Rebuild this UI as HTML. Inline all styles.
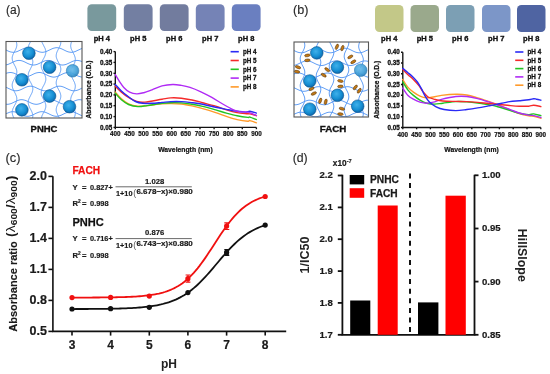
<!DOCTYPE html>
<html><head><meta charset="utf-8"><style>
html,body{margin:0;padding:0;background:#fff;}
svg{display:block;will-change:transform;}
text{font-family:"Liberation Sans", sans-serif;}
</style></head><body>
<svg width="550" height="374" viewBox="0 0 550 374">
<rect width="550" height="374" fill="#fff"/>
<defs>
<radialGradient id="ballg" cx="0.42" cy="0.38" r="0.65"><stop offset="0" stop-color="#3fb0ea"/><stop offset="0.6" stop-color="#1790d4"/><stop offset="1" stop-color="#0c66aa"/></radialGradient>
<radialGradient id="ballL" cx="0.42" cy="0.38" r="0.65"><stop offset="0" stop-color="#6cbcea"/><stop offset="0.6" stop-color="#44a2da"/><stop offset="1" stop-color="#2a80bc"/></radialGradient>
</defs>
<text x="6" y="13.6" font-size="12.3" fill="#2a2a2a" stroke="#2a2a2a" stroke-width="0.15" textLength="14.6" lengthAdjust="spacingAndGlyphs">(a)</text>
<text x="293" y="13.6" font-size="12.3" fill="#2a2a2a" stroke="#2a2a2a" stroke-width="0.15" textLength="15.4" lengthAdjust="spacingAndGlyphs">(b)</text>
<text x="5.5" y="161.5" font-size="12.3" fill="#2a2a2a" stroke="#2a2a2a" stroke-width="0.15" textLength="15" lengthAdjust="spacingAndGlyphs">(c)</text>
<text x="292.7" y="161.5" font-size="12.3" fill="#2a2a2a" stroke="#2a2a2a" stroke-width="0.15" textLength="15" lengthAdjust="spacingAndGlyphs">(d)</text>
<rect x="87.4" y="4.2" width="28.8" height="26.9" rx="4.5" fill="#79999d"/>
<text x="101.8" y="40.8" text-anchor="middle" font-size="7.5" font-weight="bold" fill="#111" stroke="#111" stroke-width="0.35">pH 4</text>
<rect x="123.8" y="4.2" width="28.8" height="26.9" rx="4.5" fill="#737fa2"/>
<text x="138.2" y="40.8" text-anchor="middle" font-size="7.5" font-weight="bold" fill="#111" stroke="#111" stroke-width="0.35">pH 5</text>
<rect x="159.8" y="4.2" width="28.8" height="26.9" rx="4.5" fill="#727c9e"/>
<text x="174.2" y="40.8" text-anchor="middle" font-size="7.5" font-weight="bold" fill="#111" stroke="#111" stroke-width="0.35">pH 6</text>
<rect x="195.8" y="4.2" width="28.8" height="26.9" rx="4.5" fill="#7583b6"/>
<text x="210.2" y="40.8" text-anchor="middle" font-size="7.5" font-weight="bold" fill="#111" stroke="#111" stroke-width="0.35">pH 7</text>
<rect x="231.8" y="4.2" width="28.8" height="26.9" rx="4.5" fill="#6a7fc0"/>
<text x="246.2" y="40.8" text-anchor="middle" font-size="7.5" font-weight="bold" fill="#111" stroke="#111" stroke-width="0.35">pH 8</text>
<rect x="375.0" y="5.0" width="28.5" height="27.0" rx="4.5" fill="#c3c888"/>
<text x="389.2" y="41.3" text-anchor="middle" font-size="7.5" font-weight="bold" fill="#111" stroke="#111" stroke-width="0.35">pH 4</text>
<rect x="410.5" y="5.0" width="28.5" height="27.0" rx="4.5" fill="#9aa98c"/>
<text x="424.8" y="41.3" text-anchor="middle" font-size="7.5" font-weight="bold" fill="#111" stroke="#111" stroke-width="0.35">pH 5</text>
<rect x="446.0" y="5.0" width="28.5" height="27.0" rx="4.5" fill="#7c9fb4"/>
<text x="460.2" y="41.3" text-anchor="middle" font-size="7.5" font-weight="bold" fill="#111" stroke="#111" stroke-width="0.35">pH 6</text>
<rect x="482.0" y="5.0" width="28.5" height="27.0" rx="4.5" fill="#7c96c8"/>
<text x="496.2" y="41.3" text-anchor="middle" font-size="7.5" font-weight="bold" fill="#111" stroke="#111" stroke-width="0.35">pH 7</text>
<rect x="517.0" y="5.0" width="28.5" height="27.0" rx="4.5" fill="#4f64a2"/>
<text x="531.2" y="41.3" text-anchor="middle" font-size="7.5" font-weight="bold" fill="#111" stroke="#111" stroke-width="0.35">pH 8</text>
<g>
<clipPath id="clip6"><rect x="6.0" y="41.5" width="76.0" height="76.5"/></clipPath>
<rect x="6.0" y="41.5" width="76.0" height="76.5" fill="#fff"/>
<g clip-path="url(#clip6)" stroke="#5a9af4" stroke-width="0.95" fill="none">
<path d="M4.0,49.0 L5.0,49.5 L6.0,50.0 L7.0,50.5 L8.0,51.0 L9.0,51.4 L10.0,51.8 L11.0,52.0 L12.0,52.2 L13.0,52.3 L14.0,52.3 L15.0,52.1 L16.0,51.9 L17.0,51.6 L18.0,51.2 L19.0,50.7 L20.0,50.2 L21.0,49.8 L22.0,49.3 L23.0,48.8 L24.0,48.4 L25.0,48.1 L26.0,47.9 L27.0,47.7 L28.0,47.7 L29.0,47.8 L30.0,48.0 L31.0,48.2 L32.0,48.6 L33.0,49.0 L34.0,49.5 L35.0,50.0 L36.0,50.5 L37.0,51.0 L38.0,51.4 L39.0,51.8 L40.0,52.0 L41.0,52.2 L42.0,52.3 L43.0,52.3 L44.0,52.1 L45.0,51.9 L46.0,51.6 L47.0,51.2 L48.0,50.7 L49.0,50.2 L50.0,49.8 L51.0,49.3 L52.0,48.8 L53.0,48.4 L54.0,48.1 L55.0,47.9 L56.0,47.7 L57.0,47.7 L58.0,47.8 L59.0,48.0 L60.0,48.2 L61.0,48.6 L62.0,49.0 L63.0,49.5 L64.0,50.0 L65.0,50.5 L66.0,51.0 L67.0,51.4 L68.0,51.8 L69.0,52.0 L70.0,52.2 L71.0,52.3 L72.0,52.3 L73.0,52.1 L74.0,51.9 L75.0,51.6 L76.0,51.2 L77.0,50.7 L78.0,50.2 L79.0,49.8 L80.0,49.3 L81.0,48.8 L82.0,48.4 L83.0,48.1 L84.0,47.9 L85.0,47.7 L86.0,47.7 L87.0,47.8 L88.0,48.0"/>
<path d="M4.0,65.0 L5.0,65.0 L6.0,64.9 L7.0,64.7 L8.0,64.4 L9.0,64.0 L10.0,63.5 L11.0,63.1 L12.0,62.6 L13.0,62.1 L14.0,61.6 L15.0,61.2 L16.0,60.9 L17.0,60.6 L18.0,60.5 L19.0,60.4 L20.0,60.5 L21.0,60.6 L22.0,60.9 L23.0,61.2 L24.0,61.6 L25.0,62.1 L26.0,62.6 L27.0,63.1 L28.0,63.6 L29.0,64.0 L30.0,64.4 L31.0,64.7 L32.0,64.9 L33.0,65.0 L34.0,65.0 L35.0,64.9 L36.0,64.7 L37.0,64.4 L38.0,64.0 L39.0,63.5 L40.0,63.1 L41.0,62.6 L42.0,62.1 L43.0,61.6 L44.0,61.2 L45.0,60.9 L46.0,60.6 L47.0,60.5 L48.0,60.4 L49.0,60.5 L50.0,60.6 L51.0,60.9 L52.0,61.2 L53.0,61.6 L54.0,62.1 L55.0,62.6 L56.0,63.1 L57.0,63.6 L58.0,64.0 L59.0,64.4 L60.0,64.7 L61.0,64.9 L62.0,65.0 L63.0,65.0 L64.0,64.9 L65.0,64.7 L66.0,64.4 L67.0,64.0 L68.0,63.5 L69.0,63.1 L70.0,62.6 L71.0,62.1 L72.0,61.6 L73.0,61.2 L74.0,60.9 L75.0,60.6 L76.0,60.5 L77.0,60.4 L78.0,60.5 L79.0,60.6 L80.0,60.9 L81.0,61.2 L82.0,61.6 L83.0,62.1 L84.0,62.6 L85.0,63.1 L86.0,63.6 L87.0,64.0 L88.0,64.4"/>
<path d="M4.0,74.3 L5.0,73.8 L6.0,73.4 L7.0,73.0 L8.0,72.8 L9.0,72.6 L10.0,72.5 L11.0,72.5 L12.0,72.7 L13.0,72.9 L14.0,73.2 L15.0,73.6 L16.0,74.1 L17.0,74.6 L18.0,75.1 L19.0,75.6 L20.0,76.0 L21.0,76.4 L22.0,76.7 L23.0,76.9 L24.0,77.1 L25.0,77.1 L26.0,77.0 L27.0,76.8 L28.0,76.5 L29.0,76.2 L30.0,75.7 L31.0,75.3 L32.0,74.8 L33.0,74.3 L34.0,73.8 L35.0,73.4 L36.0,73.0 L37.0,72.8 L38.0,72.6 L39.0,72.5 L40.0,72.5 L41.0,72.7 L42.0,72.9 L43.0,73.2 L44.0,73.6 L45.0,74.1 L46.0,74.6 L47.0,75.1 L48.0,75.6 L49.0,76.0 L50.0,76.4 L51.0,76.7 L52.0,76.9 L53.0,77.1 L54.0,77.1 L55.0,77.0 L56.0,76.8 L57.0,76.5 L58.0,76.2 L59.0,75.7 L60.0,75.3 L61.0,74.8 L62.0,74.3 L63.0,73.8 L64.0,73.4 L65.0,73.0 L66.0,72.8 L67.0,72.6 L68.0,72.5 L69.0,72.5 L70.0,72.7 L71.0,72.9 L72.0,73.2 L73.0,73.6 L74.0,74.1 L75.0,74.6 L76.0,75.1 L77.0,75.6 L78.0,76.0 L79.0,76.4 L80.0,76.7 L81.0,76.9 L82.0,77.1 L83.0,77.1 L84.0,77.0 L85.0,76.8 L86.0,76.5 L87.0,76.2 L88.0,75.7"/>
<path d="M4.0,86.5 L5.0,86.9 L6.0,87.2 L7.0,87.7 L8.0,88.2 L9.0,88.7 L10.0,89.1 L11.0,89.6 L12.0,90.0 L13.0,90.3 L14.0,90.6 L15.0,90.8 L16.0,90.8 L17.0,90.7 L18.0,90.6 L19.0,90.3 L20.0,90.0 L21.0,89.6 L22.0,89.1 L23.0,88.6 L24.0,88.1 L25.0,87.6 L26.0,87.2 L27.0,86.8 L28.0,86.5 L29.0,86.3 L30.0,86.2 L31.0,86.2 L32.0,86.3 L33.0,86.5 L34.0,86.9 L35.0,87.2 L36.0,87.7 L37.0,88.2 L38.0,88.7 L39.0,89.1 L40.0,89.6 L41.0,90.0 L42.0,90.3 L43.0,90.6 L44.0,90.8 L45.0,90.8 L46.0,90.7 L47.0,90.6 L48.0,90.3 L49.0,90.0 L50.0,89.6 L51.0,89.1 L52.0,88.6 L53.0,88.1 L54.0,87.6 L55.0,87.2 L56.0,86.8 L57.0,86.5 L58.0,86.3 L59.0,86.2 L60.0,86.2 L61.0,86.3 L62.0,86.5 L63.0,86.9 L64.0,87.2 L65.0,87.7 L66.0,88.2 L67.0,88.7 L68.0,89.1 L69.0,89.6 L70.0,90.0 L71.0,90.3 L72.0,90.6 L73.0,90.8 L74.0,90.8 L75.0,90.7 L76.0,90.6 L77.0,90.3 L78.0,90.0 L79.0,89.6 L80.0,89.1 L81.0,88.6 L82.0,88.1 L83.0,87.6 L84.0,87.2 L85.0,86.8 L86.0,86.5 L87.0,86.3 L88.0,86.2"/>
<path d="M4.0,103.8 L5.0,104.0 L6.0,104.2 L7.0,104.3 L8.0,104.3 L9.0,104.1 L10.0,103.9 L11.0,103.6 L12.0,103.2 L13.0,102.7 L14.0,102.2 L15.0,101.7 L16.0,101.2 L17.0,100.8 L18.0,100.4 L19.0,100.1 L20.0,99.8 L21.0,99.7 L22.0,99.7 L23.0,99.8 L24.0,100.0 L25.0,100.3 L26.0,100.6 L27.0,101.1 L28.0,101.5 L29.0,102.0 L30.0,102.5 L31.0,103.0 L32.0,103.4 L33.0,103.8 L34.0,104.0 L35.0,104.2 L36.0,104.3 L37.0,104.3 L38.0,104.1 L39.0,103.9 L40.0,103.6 L41.0,103.2 L42.0,102.7 L43.0,102.2 L44.0,101.7 L45.0,101.2 L46.0,100.8 L47.0,100.4 L48.0,100.1 L49.0,99.8 L50.0,99.7 L51.0,99.7 L52.0,99.8 L53.0,100.0 L54.0,100.3 L55.0,100.6 L56.0,101.1 L57.0,101.5 L58.0,102.0 L59.0,102.5 L60.0,103.0 L61.0,103.4 L62.0,103.8 L63.0,104.0 L64.0,104.2 L65.0,104.3 L66.0,104.3 L67.0,104.1 L68.0,103.9 L69.0,103.6 L70.0,103.2 L71.0,102.7 L72.0,102.2 L73.0,101.7 L74.0,101.2 L75.0,100.8 L76.0,100.4 L77.0,100.1 L78.0,99.8 L79.0,99.7 L80.0,99.7 L81.0,99.8 L82.0,100.0 L83.0,100.3 L84.0,100.6 L85.0,101.1 L86.0,101.5 L87.0,102.0 L88.0,102.5"/>
<path d="M4.0,114.8 L5.0,114.3 L6.0,113.8 L7.0,113.3 L8.0,112.9 L9.0,112.5 L10.0,112.1 L11.0,111.9 L12.0,111.7 L13.0,111.7 L14.0,111.8 L15.0,111.9 L16.0,112.2 L17.0,112.5 L18.0,113.0 L19.0,113.4 L20.0,113.9 L21.0,114.4 L22.0,114.9 L23.0,115.3 L24.0,115.7 L25.0,116.0 L26.0,116.2 L27.0,116.3 L28.0,116.3 L29.0,116.2 L30.0,115.9 L31.0,115.6 L32.0,115.3 L33.0,114.8 L34.0,114.3 L35.0,113.8 L36.0,113.3 L37.0,112.9 L38.0,112.5 L39.0,112.1 L40.0,111.9 L41.0,111.7 L42.0,111.7 L43.0,111.8 L44.0,111.9 L45.0,112.2 L46.0,112.5 L47.0,113.0 L48.0,113.4 L49.0,113.9 L50.0,114.4 L51.0,114.9 L52.0,115.3 L53.0,115.7 L54.0,116.0 L55.0,116.2 L56.0,116.3 L57.0,116.3 L58.0,116.2 L59.0,115.9 L60.0,115.6 L61.0,115.3 L62.0,114.8 L63.0,114.3 L64.0,113.8 L65.0,113.3 L66.0,112.9 L67.0,112.5 L68.0,112.1 L69.0,111.9 L70.0,111.7 L71.0,111.7 L72.0,111.8 L73.0,111.9 L74.0,112.2 L75.0,112.5 L76.0,113.0 L77.0,113.4 L78.0,113.9 L79.0,114.4 L80.0,114.9 L81.0,115.3 L82.0,115.7 L83.0,116.0 L84.0,116.2 L85.0,116.3 L86.0,116.3 L87.0,116.2 L88.0,115.9"/>
<path d="M15.3,39.5 L15.7,40.5 L16.1,41.5 L16.5,42.5 L16.7,43.5 L16.8,44.5 L16.8,45.5 L16.6,46.5 L16.4,47.5 L16.0,48.5 L15.6,49.5 L15.1,50.5 L14.5,51.5 L14.0,52.5 L13.5,53.5 L13.0,54.5 L12.7,55.5 L12.4,56.5 L12.2,57.5 L12.2,58.5 L12.3,59.5 L12.5,60.5 L12.8,61.5 L13.2,62.5 L13.7,63.5 L14.2,64.5 L14.7,65.5 L15.3,66.5 L15.7,67.5 L16.1,68.5 L16.5,69.5 L16.7,70.5 L16.8,71.5 L16.8,72.5 L16.6,73.5 L16.4,74.5 L16.0,75.5 L15.6,76.5 L15.1,77.5 L14.5,78.5 L14.0,79.5 L13.5,80.5 L13.0,81.5 L12.7,82.5 L12.4,83.5 L12.2,84.5 L12.2,85.5 L12.3,86.5 L12.5,87.5 L12.8,88.5 L13.2,89.5 L13.7,90.5 L14.2,91.5 L14.7,92.5 L15.3,93.5 L15.7,94.5 L16.1,95.5 L16.5,96.5 L16.7,97.5 L16.8,98.5 L16.8,99.5 L16.6,100.5 L16.4,101.5 L16.0,102.5 L15.6,103.5 L15.1,104.5 L14.5,105.5 L14.0,106.5 L13.5,107.5 L13.0,108.5 L12.7,109.5 L12.4,110.5 L12.2,111.5 L12.2,112.5 L12.3,113.5 L12.5,114.5 L12.8,115.5 L13.2,116.5 L13.7,117.5 L14.2,118.5 L14.7,119.5 L15.3,120.5 L15.7,121.5 L16.1,122.5 L16.5,123.5"/>
<path d="M31.6,39.5 L31.1,40.5 L30.6,41.5 L30.1,42.5 L29.6,43.5 L29.1,44.5 L28.7,45.5 L28.4,46.5 L28.3,47.5 L28.2,48.5 L28.3,49.5 L28.5,50.5 L28.8,51.5 L29.2,52.5 L29.6,53.5 L30.1,54.5 L30.7,55.5 L31.2,56.5 L31.7,57.5 L32.1,58.5 L32.4,59.5 L32.7,60.5 L32.8,61.5 L32.8,62.5 L32.6,63.5 L32.4,64.5 L32.1,65.5 L31.6,66.5 L31.1,67.5 L30.6,68.5 L30.1,69.5 L29.6,70.5 L29.1,71.5 L28.7,72.5 L28.4,73.5 L28.3,74.5 L28.2,75.5 L28.3,76.5 L28.5,77.5 L28.8,78.5 L29.2,79.5 L29.6,80.5 L30.1,81.5 L30.7,82.5 L31.2,83.5 L31.7,84.5 L32.1,85.5 L32.4,86.5 L32.7,87.5 L32.8,88.5 L32.8,89.5 L32.6,90.5 L32.4,91.5 L32.1,92.5 L31.6,93.5 L31.1,94.5 L30.6,95.5 L30.1,96.5 L29.6,97.5 L29.1,98.5 L28.7,99.5 L28.4,100.5 L28.3,101.5 L28.2,102.5 L28.3,103.5 L28.5,104.5 L28.8,105.5 L29.2,106.5 L29.6,107.5 L30.1,108.5 L30.7,109.5 L31.2,110.5 L31.7,111.5 L32.1,112.5 L32.4,113.5 L32.7,114.5 L32.8,115.5 L32.8,116.5 L32.6,117.5 L32.4,118.5 L32.1,119.5 L31.6,120.5 L31.1,121.5 L30.6,122.5 L30.1,123.5"/>
<path d="M41.3,39.5 L41.4,40.5 L41.7,41.5 L42.1,42.5 L42.6,43.5 L43.1,44.5 L43.6,45.5 L44.1,46.5 L44.6,47.5 L45.1,48.5 L45.4,49.5 L45.7,50.5 L45.8,51.5 L45.8,52.5 L45.7,53.5 L45.4,54.5 L45.1,55.5 L44.7,56.5 L44.2,57.5 L43.7,58.5 L43.1,59.5 L42.6,60.5 L42.1,61.5 L41.8,62.5 L41.5,63.5 L41.3,64.5 L41.2,65.5 L41.3,66.5 L41.4,67.5 L41.7,68.5 L42.1,69.5 L42.6,70.5 L43.1,71.5 L43.6,72.5 L44.1,73.5 L44.6,74.5 L45.1,75.5 L45.4,76.5 L45.7,77.5 L45.8,78.5 L45.8,79.5 L45.7,80.5 L45.4,81.5 L45.1,82.5 L44.7,83.5 L44.2,84.5 L43.7,85.5 L43.1,86.5 L42.6,87.5 L42.1,88.5 L41.8,89.5 L41.5,90.5 L41.3,91.5 L41.2,92.5 L41.3,93.5 L41.4,94.5 L41.7,95.5 L42.1,96.5 L42.6,97.5 L43.1,98.5 L43.6,99.5 L44.1,100.5 L44.6,101.5 L45.1,102.5 L45.4,103.5 L45.7,104.5 L45.8,105.5 L45.8,106.5 L45.7,107.5 L45.4,108.5 L45.1,109.5 L44.7,110.5 L44.2,111.5 L43.7,112.5 L43.1,113.5 L42.6,114.5 L42.1,115.5 L41.8,116.5 L41.5,117.5 L41.3,118.5 L41.2,119.5 L41.3,120.5 L41.4,121.5 L41.7,122.5 L42.1,123.5"/>
<path d="M60.4,39.5 L60.6,40.5 L60.8,41.5 L60.8,42.5 L60.7,43.5 L60.5,44.5 L60.1,45.5 L59.7,46.5 L59.2,47.5 L58.7,48.5 L58.2,49.5 L57.7,50.5 L57.2,51.5 L56.8,52.5 L56.5,53.5 L56.3,54.5 L56.2,55.5 L56.2,56.5 L56.4,57.5 L56.7,58.5 L57.1,59.5 L57.5,60.5 L58.0,61.5 L58.5,62.5 L59.1,63.5 L59.6,64.5 L60.0,65.5 L60.4,66.5 L60.6,67.5 L60.8,68.5 L60.8,69.5 L60.7,70.5 L60.5,71.5 L60.1,72.5 L59.7,73.5 L59.2,74.5 L58.7,75.5 L58.2,76.5 L57.7,77.5 L57.2,78.5 L56.8,79.5 L56.5,80.5 L56.3,81.5 L56.2,82.5 L56.2,83.5 L56.4,84.5 L56.7,85.5 L57.1,86.5 L57.5,87.5 L58.0,88.5 L58.5,89.5 L59.1,90.5 L59.6,91.5 L60.0,92.5 L60.4,93.5 L60.6,94.5 L60.8,95.5 L60.8,96.5 L60.7,97.5 L60.5,98.5 L60.1,99.5 L59.7,100.5 L59.2,101.5 L58.7,102.5 L58.2,103.5 L57.7,104.5 L57.2,105.5 L56.8,106.5 L56.5,107.5 L56.3,108.5 L56.2,109.5 L56.2,110.5 L56.4,111.5 L56.7,112.5 L57.1,113.5 L57.5,114.5 L58.0,115.5 L58.5,116.5 L59.1,117.5 L59.6,118.5 L60.0,119.5 L60.4,120.5 L60.6,121.5 L60.8,122.5 L60.8,123.5"/>
<path d="M72.7,39.5 L72.2,40.5 L71.7,41.5 L71.3,42.5 L71.0,43.5 L70.8,44.5 L70.7,45.5 L70.7,46.5 L70.9,47.5 L71.1,48.5 L71.5,49.5 L72.0,50.5 L72.5,51.5 L73.0,52.5 L73.5,53.5 L74.0,54.5 L74.5,55.5 L74.8,56.5 L75.1,57.5 L75.3,58.5 L75.3,59.5 L75.2,60.5 L75.0,61.5 L74.7,62.5 L74.3,63.5 L73.8,64.5 L73.3,65.5 L72.7,66.5 L72.2,67.5 L71.7,68.5 L71.3,69.5 L71.0,70.5 L70.8,71.5 L70.7,72.5 L70.7,73.5 L70.9,74.5 L71.1,75.5 L71.5,76.5 L72.0,77.5 L72.5,78.5 L73.0,79.5 L73.5,80.5 L74.0,81.5 L74.5,82.5 L74.8,83.5 L75.1,84.5 L75.3,85.5 L75.3,86.5 L75.2,87.5 L75.0,88.5 L74.7,89.5 L74.3,90.5 L73.8,91.5 L73.3,92.5 L72.7,93.5 L72.2,94.5 L71.7,95.5 L71.3,96.5 L71.0,97.5 L70.8,98.5 L70.7,99.5 L70.7,100.5 L70.9,101.5 L71.1,102.5 L71.5,103.5 L72.0,104.5 L72.5,105.5 L73.0,106.5 L73.5,107.5 L74.0,108.5 L74.5,109.5 L74.8,110.5 L75.1,111.5 L75.3,112.5 L75.3,113.5 L75.2,114.5 L75.0,115.5 L74.7,116.5 L74.3,117.5 L73.8,118.5 L73.3,119.5 L72.7,120.5 L72.2,121.5 L71.7,122.5 L71.3,123.5"/>
</g>
<circle cx="28.9" cy="53.2" r="6.3" fill="url(#ballg)" stroke="#0a508c" stroke-width="0.6"/>
<circle cx="49.6" cy="67.2" r="6.3" fill="url(#ballg)" stroke="#0a508c" stroke-width="0.6"/>
<circle cx="21.9" cy="79.8" r="6.3" fill="url(#ballg)" stroke="#0a508c" stroke-width="0.6"/>
<circle cx="49.6" cy="96.1" r="6.3" fill="url(#ballg)" stroke="#0a508c" stroke-width="0.6"/>
<circle cx="21.9" cy="109.9" r="6.3" fill="url(#ballg)" stroke="#0a508c" stroke-width="0.6"/>
<circle cx="69.5" cy="106.7" r="6.3" fill="url(#ballg)" stroke="#0a508c" stroke-width="0.6"/>
<circle cx="72.6" cy="70.8" r="6.3" fill="url(#ballL)" stroke="#2070aa" stroke-width="0.6" opacity="0.92"/>
<rect x="6.0" y="41.5" width="76.0" height="76.5" fill="none" stroke="#555" stroke-width="1.1"/>
</g>
<g>
<clipPath id="clip294"><rect x="294.0" y="42.0" width="74.5" height="75.0"/></clipPath>
<rect x="294.0" y="42.0" width="74.5" height="75.0" fill="#fff"/>
<g clip-path="url(#clip294)" stroke="#5a9af4" stroke-width="0.95" fill="none">
<path d="M292.0,49.5 L293.0,50.0 L294.0,50.5 L295.0,51.0 L296.0,51.5 L297.0,51.9 L298.0,52.3 L299.0,52.5 L300.0,52.7 L301.0,52.8 L302.0,52.8 L303.0,52.6 L304.0,52.4 L305.0,52.1 L306.0,51.7 L307.0,51.2 L308.0,50.7 L309.0,50.3 L310.0,49.8 L311.0,49.3 L312.0,48.9 L313.0,48.6 L314.0,48.4 L315.0,48.2 L316.0,48.2 L317.0,48.3 L318.0,48.5 L319.0,48.7 L320.0,49.1 L321.0,49.5 L322.0,50.0 L323.0,50.5 L324.0,51.0 L325.0,51.5 L326.0,51.9 L327.0,52.3 L328.0,52.5 L329.0,52.7 L330.0,52.8 L331.0,52.8 L332.0,52.6 L333.0,52.4 L334.0,52.1 L335.0,51.7 L336.0,51.2 L337.0,50.7 L338.0,50.3 L339.0,49.8 L340.0,49.3 L341.0,48.9 L342.0,48.6 L343.0,48.4 L344.0,48.2 L345.0,48.2 L346.0,48.3 L347.0,48.5 L348.0,48.7 L349.0,49.1 L350.0,49.5 L351.0,50.0 L352.0,50.5 L353.0,51.0 L354.0,51.5 L355.0,51.9 L356.0,52.3 L357.0,52.5 L358.0,52.7 L359.0,52.8 L360.0,52.8 L361.0,52.6 L362.0,52.4 L363.0,52.1 L364.0,51.7 L365.0,51.2 L366.0,50.7 L367.0,50.3 L368.0,49.8 L369.0,49.3 L370.0,48.9 L371.0,48.6 L372.0,48.4 L373.0,48.2 L374.0,48.2 L375.0,48.3 L376.0,48.5"/>
<path d="M292.0,65.5 L293.0,65.5 L294.0,65.4 L295.0,65.2 L296.0,64.9 L297.0,64.5 L298.0,64.0 L299.0,63.6 L300.0,63.1 L301.0,62.6 L302.0,62.1 L303.0,61.7 L304.0,61.4 L305.0,61.1 L306.0,61.0 L307.0,60.9 L308.0,61.0 L309.0,61.1 L310.0,61.4 L311.0,61.7 L312.0,62.1 L313.0,62.6 L314.0,63.1 L315.0,63.6 L316.0,64.1 L317.0,64.5 L318.0,64.9 L319.0,65.2 L320.0,65.4 L321.0,65.5 L322.0,65.5 L323.0,65.4 L324.0,65.2 L325.0,64.9 L326.0,64.5 L327.0,64.0 L328.0,63.6 L329.0,63.1 L330.0,62.6 L331.0,62.1 L332.0,61.7 L333.0,61.4 L334.0,61.1 L335.0,61.0 L336.0,60.9 L337.0,61.0 L338.0,61.1 L339.0,61.4 L340.0,61.7 L341.0,62.1 L342.0,62.6 L343.0,63.1 L344.0,63.6 L345.0,64.1 L346.0,64.5 L347.0,64.9 L348.0,65.2 L349.0,65.4 L350.0,65.5 L351.0,65.5 L352.0,65.4 L353.0,65.2 L354.0,64.9 L355.0,64.5 L356.0,64.0 L357.0,63.6 L358.0,63.1 L359.0,62.6 L360.0,62.1 L361.0,61.7 L362.0,61.4 L363.0,61.1 L364.0,61.0 L365.0,60.9 L366.0,61.0 L367.0,61.1 L368.0,61.4 L369.0,61.7 L370.0,62.1 L371.0,62.6 L372.0,63.1 L373.0,63.6 L374.0,64.1 L375.0,64.5 L376.0,64.9"/>
<path d="M292.0,74.8 L293.0,74.3 L294.0,73.9 L295.0,73.5 L296.0,73.3 L297.0,73.1 L298.0,73.0 L299.0,73.0 L300.0,73.2 L301.0,73.4 L302.0,73.7 L303.0,74.1 L304.0,74.6 L305.0,75.1 L306.0,75.6 L307.0,76.1 L308.0,76.5 L309.0,76.9 L310.0,77.2 L311.0,77.4 L312.0,77.6 L313.0,77.6 L314.0,77.5 L315.0,77.3 L316.0,77.0 L317.0,76.7 L318.0,76.2 L319.0,75.8 L320.0,75.3 L321.0,74.8 L322.0,74.3 L323.0,73.9 L324.0,73.5 L325.0,73.3 L326.0,73.1 L327.0,73.0 L328.0,73.0 L329.0,73.2 L330.0,73.4 L331.0,73.7 L332.0,74.1 L333.0,74.6 L334.0,75.1 L335.0,75.6 L336.0,76.1 L337.0,76.5 L338.0,76.9 L339.0,77.2 L340.0,77.4 L341.0,77.6 L342.0,77.6 L343.0,77.5 L344.0,77.3 L345.0,77.0 L346.0,76.7 L347.0,76.2 L348.0,75.8 L349.0,75.3 L350.0,74.8 L351.0,74.3 L352.0,73.9 L353.0,73.5 L354.0,73.3 L355.0,73.1 L356.0,73.0 L357.0,73.0 L358.0,73.2 L359.0,73.4 L360.0,73.7 L361.0,74.1 L362.0,74.6 L363.0,75.1 L364.0,75.6 L365.0,76.1 L366.0,76.5 L367.0,76.9 L368.0,77.2 L369.0,77.4 L370.0,77.6 L371.0,77.6 L372.0,77.5 L373.0,77.3 L374.0,77.0 L375.0,76.7 L376.0,76.2"/>
<path d="M292.0,87.0 L293.0,87.4 L294.0,87.7 L295.0,88.2 L296.0,88.7 L297.0,89.2 L298.0,89.6 L299.0,90.1 L300.0,90.5 L301.0,90.8 L302.0,91.1 L303.0,91.3 L304.0,91.3 L305.0,91.2 L306.0,91.1 L307.0,90.8 L308.0,90.5 L309.0,90.1 L310.0,89.6 L311.0,89.1 L312.0,88.6 L313.0,88.1 L314.0,87.7 L315.0,87.3 L316.0,87.0 L317.0,86.8 L318.0,86.7 L319.0,86.7 L320.0,86.8 L321.0,87.0 L322.0,87.4 L323.0,87.7 L324.0,88.2 L325.0,88.7 L326.0,89.2 L327.0,89.6 L328.0,90.1 L329.0,90.5 L330.0,90.8 L331.0,91.1 L332.0,91.3 L333.0,91.3 L334.0,91.2 L335.0,91.1 L336.0,90.8 L337.0,90.5 L338.0,90.1 L339.0,89.6 L340.0,89.1 L341.0,88.6 L342.0,88.1 L343.0,87.7 L344.0,87.3 L345.0,87.0 L346.0,86.8 L347.0,86.7 L348.0,86.7 L349.0,86.8 L350.0,87.0 L351.0,87.4 L352.0,87.7 L353.0,88.2 L354.0,88.7 L355.0,89.2 L356.0,89.6 L357.0,90.1 L358.0,90.5 L359.0,90.8 L360.0,91.1 L361.0,91.3 L362.0,91.3 L363.0,91.2 L364.0,91.1 L365.0,90.8 L366.0,90.5 L367.0,90.1 L368.0,89.6 L369.0,89.1 L370.0,88.6 L371.0,88.1 L372.0,87.7 L373.0,87.3 L374.0,87.0 L375.0,86.8 L376.0,86.7"/>
<path d="M292.0,104.3 L293.0,104.5 L294.0,104.7 L295.0,104.8 L296.0,104.8 L297.0,104.6 L298.0,104.4 L299.0,104.1 L300.0,103.7 L301.0,103.2 L302.0,102.7 L303.0,102.2 L304.0,101.7 L305.0,101.3 L306.0,100.9 L307.0,100.6 L308.0,100.3 L309.0,100.2 L310.0,100.2 L311.0,100.3 L312.0,100.5 L313.0,100.8 L314.0,101.1 L315.0,101.6 L316.0,102.0 L317.0,102.5 L318.0,103.0 L319.0,103.5 L320.0,103.9 L321.0,104.3 L322.0,104.5 L323.0,104.7 L324.0,104.8 L325.0,104.8 L326.0,104.6 L327.0,104.4 L328.0,104.1 L329.0,103.7 L330.0,103.2 L331.0,102.7 L332.0,102.2 L333.0,101.7 L334.0,101.3 L335.0,100.9 L336.0,100.6 L337.0,100.3 L338.0,100.2 L339.0,100.2 L340.0,100.3 L341.0,100.5 L342.0,100.8 L343.0,101.1 L344.0,101.6 L345.0,102.0 L346.0,102.5 L347.0,103.0 L348.0,103.5 L349.0,103.9 L350.0,104.3 L351.0,104.5 L352.0,104.7 L353.0,104.8 L354.0,104.8 L355.0,104.6 L356.0,104.4 L357.0,104.1 L358.0,103.7 L359.0,103.2 L360.0,102.7 L361.0,102.2 L362.0,101.7 L363.0,101.3 L364.0,100.9 L365.0,100.6 L366.0,100.3 L367.0,100.2 L368.0,100.2 L369.0,100.3 L370.0,100.5 L371.0,100.8 L372.0,101.1 L373.0,101.6 L374.0,102.0 L375.0,102.5 L376.0,103.0"/>
<path d="M292.0,115.3 L293.0,114.8 L294.0,114.3 L295.0,113.8 L296.0,113.4 L297.0,113.0 L298.0,112.6 L299.0,112.4 L300.0,112.2 L301.0,112.2 L302.0,112.3 L303.0,112.4 L304.0,112.7 L305.0,113.0 L306.0,113.5 L307.0,113.9 L308.0,114.4 L309.0,114.9 L310.0,115.4 L311.0,115.8 L312.0,116.2 L313.0,116.5 L314.0,116.7 L315.0,116.8 L316.0,116.8 L317.0,116.7 L318.0,116.4 L319.0,116.1 L320.0,115.8 L321.0,115.3 L322.0,114.8 L323.0,114.3 L324.0,113.8 L325.0,113.4 L326.0,113.0 L327.0,112.6 L328.0,112.4 L329.0,112.2 L330.0,112.2 L331.0,112.3 L332.0,112.4 L333.0,112.7 L334.0,113.0 L335.0,113.5 L336.0,113.9 L337.0,114.4 L338.0,114.9 L339.0,115.4 L340.0,115.8 L341.0,116.2 L342.0,116.5 L343.0,116.7 L344.0,116.8 L345.0,116.8 L346.0,116.7 L347.0,116.4 L348.0,116.1 L349.0,115.8 L350.0,115.3 L351.0,114.8 L352.0,114.3 L353.0,113.8 L354.0,113.4 L355.0,113.0 L356.0,112.6 L357.0,112.4 L358.0,112.2 L359.0,112.2 L360.0,112.3 L361.0,112.4 L362.0,112.7 L363.0,113.0 L364.0,113.5 L365.0,113.9 L366.0,114.4 L367.0,114.9 L368.0,115.4 L369.0,115.8 L370.0,116.2 L371.0,116.5 L372.0,116.7 L373.0,116.8 L374.0,116.8 L375.0,116.7 L376.0,116.4"/>
<path d="M303.3,40.0 L303.7,41.0 L304.1,42.0 L304.5,43.0 L304.7,44.0 L304.8,45.0 L304.8,46.0 L304.6,47.0 L304.4,48.0 L304.0,49.0 L303.6,50.0 L303.1,51.0 L302.5,52.0 L302.0,53.0 L301.5,54.0 L301.0,55.0 L300.7,56.0 L300.4,57.0 L300.2,58.0 L300.2,59.0 L300.3,60.0 L300.5,61.0 L300.8,62.0 L301.2,63.0 L301.7,64.0 L302.2,65.0 L302.7,66.0 L303.3,67.0 L303.7,68.0 L304.1,69.0 L304.5,70.0 L304.7,71.0 L304.8,72.0 L304.8,73.0 L304.6,74.0 L304.4,75.0 L304.0,76.0 L303.6,77.0 L303.1,78.0 L302.5,79.0 L302.0,80.0 L301.5,81.0 L301.0,82.0 L300.7,83.0 L300.4,84.0 L300.2,85.0 L300.2,86.0 L300.3,87.0 L300.5,88.0 L300.8,89.0 L301.2,90.0 L301.7,91.0 L302.2,92.0 L302.7,93.0 L303.3,94.0 L303.7,95.0 L304.1,96.0 L304.5,97.0 L304.7,98.0 L304.8,99.0 L304.8,100.0 L304.6,101.0 L304.4,102.0 L304.0,103.0 L303.6,104.0 L303.1,105.0 L302.5,106.0 L302.0,107.0 L301.5,108.0 L301.0,109.0 L300.7,110.0 L300.4,111.0 L300.2,112.0 L300.2,113.0 L300.3,114.0 L300.5,115.0 L300.8,116.0 L301.2,117.0 L301.7,118.0 L302.2,119.0 L302.7,120.0 L303.3,121.0 L303.7,122.0 L304.1,123.0 L304.5,124.0"/>
<path d="M319.6,40.0 L319.1,41.0 L318.6,42.0 L318.1,43.0 L317.6,44.0 L317.1,45.0 L316.7,46.0 L316.4,47.0 L316.3,48.0 L316.2,49.0 L316.3,50.0 L316.5,51.0 L316.8,52.0 L317.2,53.0 L317.6,54.0 L318.1,55.0 L318.7,56.0 L319.2,57.0 L319.7,58.0 L320.1,59.0 L320.4,60.0 L320.7,61.0 L320.8,62.0 L320.8,63.0 L320.6,64.0 L320.4,65.0 L320.1,66.0 L319.6,67.0 L319.1,68.0 L318.6,69.0 L318.1,70.0 L317.6,71.0 L317.1,72.0 L316.7,73.0 L316.4,74.0 L316.3,75.0 L316.2,76.0 L316.3,77.0 L316.5,78.0 L316.8,79.0 L317.2,80.0 L317.6,81.0 L318.1,82.0 L318.7,83.0 L319.2,84.0 L319.7,85.0 L320.1,86.0 L320.4,87.0 L320.7,88.0 L320.8,89.0 L320.8,90.0 L320.6,91.0 L320.4,92.0 L320.1,93.0 L319.6,94.0 L319.1,95.0 L318.6,96.0 L318.1,97.0 L317.6,98.0 L317.1,99.0 L316.7,100.0 L316.4,101.0 L316.3,102.0 L316.2,103.0 L316.3,104.0 L316.5,105.0 L316.8,106.0 L317.2,107.0 L317.6,108.0 L318.1,109.0 L318.7,110.0 L319.2,111.0 L319.7,112.0 L320.1,113.0 L320.4,114.0 L320.7,115.0 L320.8,116.0 L320.8,117.0 L320.6,118.0 L320.4,119.0 L320.1,120.0 L319.6,121.0 L319.1,122.0 L318.6,123.0 L318.1,124.0"/>
<path d="M329.3,40.0 L329.4,41.0 L329.7,42.0 L330.1,43.0 L330.6,44.0 L331.1,45.0 L331.6,46.0 L332.1,47.0 L332.6,48.0 L333.1,49.0 L333.4,50.0 L333.7,51.0 L333.8,52.0 L333.8,53.0 L333.7,54.0 L333.4,55.0 L333.1,56.0 L332.7,57.0 L332.2,58.0 L331.7,59.0 L331.1,60.0 L330.6,61.0 L330.1,62.0 L329.8,63.0 L329.5,64.0 L329.3,65.0 L329.2,66.0 L329.3,67.0 L329.4,68.0 L329.7,69.0 L330.1,70.0 L330.6,71.0 L331.1,72.0 L331.6,73.0 L332.1,74.0 L332.6,75.0 L333.1,76.0 L333.4,77.0 L333.7,78.0 L333.8,79.0 L333.8,80.0 L333.7,81.0 L333.4,82.0 L333.1,83.0 L332.7,84.0 L332.2,85.0 L331.7,86.0 L331.1,87.0 L330.6,88.0 L330.1,89.0 L329.8,90.0 L329.5,91.0 L329.3,92.0 L329.2,93.0 L329.3,94.0 L329.4,95.0 L329.7,96.0 L330.1,97.0 L330.6,98.0 L331.1,99.0 L331.6,100.0 L332.1,101.0 L332.6,102.0 L333.1,103.0 L333.4,104.0 L333.7,105.0 L333.8,106.0 L333.8,107.0 L333.7,108.0 L333.4,109.0 L333.1,110.0 L332.7,111.0 L332.2,112.0 L331.7,113.0 L331.1,114.0 L330.6,115.0 L330.1,116.0 L329.8,117.0 L329.5,118.0 L329.3,119.0 L329.2,120.0 L329.3,121.0 L329.4,122.0 L329.7,123.0 L330.1,124.0"/>
<path d="M348.4,40.0 L348.6,41.0 L348.8,42.0 L348.8,43.0 L348.7,44.0 L348.5,45.0 L348.1,46.0 L347.7,47.0 L347.2,48.0 L346.7,49.0 L346.2,50.0 L345.7,51.0 L345.2,52.0 L344.8,53.0 L344.5,54.0 L344.3,55.0 L344.2,56.0 L344.2,57.0 L344.4,58.0 L344.7,59.0 L345.1,60.0 L345.5,61.0 L346.0,62.0 L346.5,63.0 L347.1,64.0 L347.6,65.0 L348.0,66.0 L348.4,67.0 L348.6,68.0 L348.8,69.0 L348.8,70.0 L348.7,71.0 L348.5,72.0 L348.1,73.0 L347.7,74.0 L347.2,75.0 L346.7,76.0 L346.2,77.0 L345.7,78.0 L345.2,79.0 L344.8,80.0 L344.5,81.0 L344.3,82.0 L344.2,83.0 L344.2,84.0 L344.4,85.0 L344.7,86.0 L345.1,87.0 L345.5,88.0 L346.0,89.0 L346.5,90.0 L347.1,91.0 L347.6,92.0 L348.0,93.0 L348.4,94.0 L348.6,95.0 L348.8,96.0 L348.8,97.0 L348.7,98.0 L348.5,99.0 L348.1,100.0 L347.7,101.0 L347.2,102.0 L346.7,103.0 L346.2,104.0 L345.7,105.0 L345.2,106.0 L344.8,107.0 L344.5,108.0 L344.3,109.0 L344.2,110.0 L344.2,111.0 L344.4,112.0 L344.7,113.0 L345.1,114.0 L345.5,115.0 L346.0,116.0 L346.5,117.0 L347.1,118.0 L347.6,119.0 L348.0,120.0 L348.4,121.0 L348.6,122.0 L348.8,123.0 L348.8,124.0"/>
<path d="M360.7,40.0 L360.2,41.0 L359.7,42.0 L359.3,43.0 L359.0,44.0 L358.8,45.0 L358.7,46.0 L358.7,47.0 L358.9,48.0 L359.1,49.0 L359.5,50.0 L360.0,51.0 L360.5,52.0 L361.0,53.0 L361.5,54.0 L362.0,55.0 L362.5,56.0 L362.8,57.0 L363.1,58.0 L363.3,59.0 L363.3,60.0 L363.2,61.0 L363.0,62.0 L362.7,63.0 L362.3,64.0 L361.8,65.0 L361.3,66.0 L360.7,67.0 L360.2,68.0 L359.7,69.0 L359.3,70.0 L359.0,71.0 L358.8,72.0 L358.7,73.0 L358.7,74.0 L358.9,75.0 L359.1,76.0 L359.5,77.0 L360.0,78.0 L360.5,79.0 L361.0,80.0 L361.5,81.0 L362.0,82.0 L362.5,83.0 L362.8,84.0 L363.1,85.0 L363.3,86.0 L363.3,87.0 L363.2,88.0 L363.0,89.0 L362.7,90.0 L362.3,91.0 L361.8,92.0 L361.3,93.0 L360.7,94.0 L360.2,95.0 L359.7,96.0 L359.3,97.0 L359.0,98.0 L358.8,99.0 L358.7,100.0 L358.7,101.0 L358.9,102.0 L359.1,103.0 L359.5,104.0 L360.0,105.0 L360.5,106.0 L361.0,107.0 L361.5,108.0 L362.0,109.0 L362.5,110.0 L362.8,111.0 L363.1,112.0 L363.3,113.0 L363.3,114.0 L363.2,115.0 L363.0,116.0 L362.7,117.0 L362.3,118.0 L361.8,119.0 L361.3,120.0 L360.7,121.0 L360.2,122.0 L359.7,123.0 L359.3,124.0"/>
</g>
<ellipse cx="307.4" cy="55.4" rx="2.85" ry="1.35" transform="rotate(-10 307.4 55.4)" fill="#c27a16" stroke="#4e2a02" stroke-width="0.5"/>
<ellipse cx="307.4" cy="60.3" rx="2.85" ry="1.35" transform="rotate(-5 307.4 60.3)" fill="#c27a16" stroke="#4e2a02" stroke-width="0.5"/>
<ellipse cx="298.0" cy="67.2" rx="2.85" ry="1.35" transform="rotate(20 298.0 67.2)" fill="#c27a16" stroke="#4e2a02" stroke-width="0.5"/>
<ellipse cx="297.0" cy="71.7" rx="2.85" ry="1.35" transform="rotate(10 297.0 71.7)" fill="#c27a16" stroke="#4e2a02" stroke-width="0.5"/>
<ellipse cx="327.2" cy="69.7" rx="2.85" ry="1.35" transform="rotate(35 327.2 69.7)" fill="#c27a16" stroke="#4e2a02" stroke-width="0.5"/>
<ellipse cx="323.7" cy="75.2" rx="2.85" ry="1.35" transform="rotate(30 323.7 75.2)" fill="#c27a16" stroke="#4e2a02" stroke-width="0.5"/>
<ellipse cx="336.9" cy="46.8" rx="2.85" ry="1.35" transform="rotate(-66 336.9 46.8)" fill="#c27a16" stroke="#4e2a02" stroke-width="0.5"/>
<ellipse cx="342.4" cy="48.1" rx="2.85" ry="1.35" transform="rotate(-70 342.4 48.1)" fill="#c27a16" stroke="#4e2a02" stroke-width="0.5"/>
<ellipse cx="350.3" cy="56.9" rx="2.85" ry="1.35" transform="rotate(-30 350.3 56.9)" fill="#c27a16" stroke="#4e2a02" stroke-width="0.5"/>
<ellipse cx="353.3" cy="61.8" rx="2.85" ry="1.35" transform="rotate(-30 353.3 61.8)" fill="#c27a16" stroke="#4e2a02" stroke-width="0.5"/>
<ellipse cx="311.5" cy="88.8" rx="2.85" ry="1.35" transform="rotate(-25 311.5 88.8)" fill="#c27a16" stroke="#4e2a02" stroke-width="0.5"/>
<ellipse cx="313.8" cy="93.5" rx="2.85" ry="1.35" transform="rotate(-25 313.8 93.5)" fill="#c27a16" stroke="#4e2a02" stroke-width="0.5"/>
<ellipse cx="320.2" cy="100.8" rx="2.85" ry="1.35" transform="rotate(-70 320.2 100.8)" fill="#c27a16" stroke="#4e2a02" stroke-width="0.5"/>
<ellipse cx="325.7" cy="101.8" rx="2.85" ry="1.35" transform="rotate(-75 325.7 101.8)" fill="#c27a16" stroke="#4e2a02" stroke-width="0.5"/>
<ellipse cx="340.4" cy="81.0" rx="2.85" ry="1.35" transform="rotate(10 340.4 81.0)" fill="#c27a16" stroke="#4e2a02" stroke-width="0.5"/>
<ellipse cx="340.4" cy="86.4" rx="2.85" ry="1.35" transform="rotate(-5 340.4 86.4)" fill="#c27a16" stroke="#4e2a02" stroke-width="0.5"/>
<ellipse cx="355.3" cy="87.4" rx="2.85" ry="1.35" transform="rotate(-50 355.3 87.4)" fill="#c27a16" stroke="#4e2a02" stroke-width="0.5"/>
<ellipse cx="359.2" cy="90.7" rx="2.85" ry="1.35" transform="rotate(-55 359.2 90.7)" fill="#c27a16" stroke="#4e2a02" stroke-width="0.5"/>
<ellipse cx="341.9" cy="108.7" rx="2.85" ry="1.35" transform="rotate(15 341.9 108.7)" fill="#c27a16" stroke="#4e2a02" stroke-width="0.5"/>
<ellipse cx="340.4" cy="114.1" rx="2.85" ry="1.35" transform="rotate(5 340.4 114.1)" fill="#c27a16" stroke="#4e2a02" stroke-width="0.5"/>
<circle cx="316.8" cy="52.9" r="6.3" fill="url(#ballg)" stroke="#0a508c" stroke-width="0.6"/>
<circle cx="337.4" cy="67.2" r="6.3" fill="url(#ballg)" stroke="#0a508c" stroke-width="0.6"/>
<circle cx="309.8" cy="81.0" r="6.3" fill="url(#ballg)" stroke="#0a508c" stroke-width="0.6"/>
<circle cx="337.4" cy="95.3" r="6.3" fill="url(#ballg)" stroke="#0a508c" stroke-width="0.6"/>
<circle cx="309.8" cy="109.2" r="6.3" fill="url(#ballg)" stroke="#0a508c" stroke-width="0.6"/>
<circle cx="357.7" cy="106.2" r="6.3" fill="url(#ballg)" stroke="#0a508c" stroke-width="0.6"/>
<circle cx="360.7" cy="70.2" r="6.3" fill="url(#ballL)" stroke="#2070aa" stroke-width="0.6" opacity="0.92"/>
<rect x="294.0" y="42.0" width="74.5" height="75.0" fill="none" stroke="#555" stroke-width="1.1"/>
</g>
<text x="44" y="132.4" text-anchor="middle" font-size="9.4" font-weight="bold" fill="#111" stroke="#111" stroke-width="0.35" textLength="26.9" lengthAdjust="spacingAndGlyphs">PNHC</text>
<text x="333.1" y="132.2" text-anchor="middle" font-size="9.4" font-weight="bold" fill="#111" stroke="#111" stroke-width="0.35" textLength="26.6" lengthAdjust="spacingAndGlyphs">FACH</text>
<g stroke="#111" stroke-width="1.35" fill="none">
<path d="M115.3,51.6 L115.3,127.4 L256.4,127.4"/>
<path d="M113.5,51.6 L115.3,51.6"/>
<path d="M113.5,62.4 L115.3,62.4"/>
<path d="M113.5,73.3 L115.3,73.3"/>
<path d="M113.5,84.1 L115.3,84.1"/>
<path d="M113.5,94.9 L115.3,94.9"/>
<path d="M113.5,105.7 L115.3,105.7"/>
<path d="M113.5,116.6 L115.3,116.6"/>
<path d="M113.5,127.4 L115.3,127.4"/>
<path d="M115.3,127.4 L115.3,129.2"/>
<path d="M129.4,127.4 L129.4,129.2"/>
<path d="M143.5,127.4 L143.5,129.2"/>
<path d="M157.6,127.4 L157.6,129.2"/>
<path d="M171.7,127.4 L171.7,129.2"/>
<path d="M185.8,127.4 L185.8,129.2"/>
<path d="M200.0,127.4 L200.0,129.2"/>
<path d="M214.1,127.4 L214.1,129.2"/>
<path d="M228.2,127.4 L228.2,129.2"/>
<path d="M242.3,127.4 L242.3,129.2"/>
<path d="M256.4,127.4 L256.4,129.2"/>
</g>
<text x="112.3" y="53.8" text-anchor="end" font-size="6.3" font-weight="bold" fill="#111" stroke="#111" stroke-width="0.28">0.40</text>
<text x="112.3" y="64.6" text-anchor="end" font-size="6.3" font-weight="bold" fill="#111" stroke="#111" stroke-width="0.28">0.35</text>
<text x="112.3" y="75.5" text-anchor="end" font-size="6.3" font-weight="bold" fill="#111" stroke="#111" stroke-width="0.28">0.30</text>
<text x="112.3" y="86.3" text-anchor="end" font-size="6.3" font-weight="bold" fill="#111" stroke="#111" stroke-width="0.28">0.25</text>
<text x="112.3" y="97.1" text-anchor="end" font-size="6.3" font-weight="bold" fill="#111" stroke="#111" stroke-width="0.28">0.20</text>
<text x="112.3" y="107.9" text-anchor="end" font-size="6.3" font-weight="bold" fill="#111" stroke="#111" stroke-width="0.28">0.15</text>
<text x="112.3" y="118.8" text-anchor="end" font-size="6.3" font-weight="bold" fill="#111" stroke="#111" stroke-width="0.28">0.10</text>
<text x="112.3" y="129.6" text-anchor="end" font-size="6.3" font-weight="bold" fill="#111" stroke="#111" stroke-width="0.28">0.05</text>
<text x="115.3" y="136.4" text-anchor="middle" font-size="6.3" font-weight="bold" fill="#111" stroke="#111" stroke-width="0.2">400</text>
<text x="129.4" y="136.4" text-anchor="middle" font-size="6.3" font-weight="bold" fill="#111" stroke="#111" stroke-width="0.2">450</text>
<text x="143.5" y="136.4" text-anchor="middle" font-size="6.3" font-weight="bold" fill="#111" stroke="#111" stroke-width="0.2">500</text>
<text x="157.6" y="136.4" text-anchor="middle" font-size="6.3" font-weight="bold" fill="#111" stroke="#111" stroke-width="0.2">550</text>
<text x="171.7" y="136.4" text-anchor="middle" font-size="6.3" font-weight="bold" fill="#111" stroke="#111" stroke-width="0.2">600</text>
<text x="185.8" y="136.4" text-anchor="middle" font-size="6.3" font-weight="bold" fill="#111" stroke="#111" stroke-width="0.2">650</text>
<text x="200.0" y="136.4" text-anchor="middle" font-size="6.3" font-weight="bold" fill="#111" stroke="#111" stroke-width="0.2">700</text>
<text x="214.1" y="136.4" text-anchor="middle" font-size="6.3" font-weight="bold" fill="#111" stroke="#111" stroke-width="0.2">750</text>
<text x="228.2" y="136.4" text-anchor="middle" font-size="6.3" font-weight="bold" fill="#111" stroke="#111" stroke-width="0.2">800</text>
<text x="242.3" y="136.4" text-anchor="middle" font-size="6.3" font-weight="bold" fill="#111" stroke="#111" stroke-width="0.2">850</text>
<text x="256.4" y="136.4" text-anchor="middle" font-size="6.3" font-weight="bold" fill="#111" stroke="#111" stroke-width="0.2">900</text>
<text x="185.4" y="151.9" text-anchor="middle" font-size="6.8" font-weight="bold" fill="#111" stroke="#111" stroke-width="0.2">Wavelength  (nm)</text>
<text transform="translate(91.1,89.5) rotate(-90)" text-anchor="middle" font-size="6.6" font-weight="bold" fill="#111" stroke="#111" stroke-width="0.25">Absorbance (O.D.)</text>
<path d="M115.30,92.10 C116.32,93.22 119.20,96.83 121.40,98.80 C123.60,100.77 125.75,102.67 128.50,103.90 C131.25,105.13 134.77,105.92 137.90,106.20 C141.03,106.48 143.28,105.98 147.30,105.60 C151.32,105.22 158.10,104.23 162.00,103.90 C165.90,103.57 167.47,103.58 170.70,103.60 C173.93,103.62 177.85,103.62 181.40,104.00 C184.95,104.38 188.45,105.13 192.00,105.90 C195.55,106.67 198.75,107.48 202.70,108.60 C206.65,109.72 211.75,111.30 215.70,112.60 C219.65,113.90 222.83,115.23 226.40,116.40 C229.97,117.57 233.53,118.80 237.10,119.60 C240.67,120.40 245.67,121.03 247.80,121.20 C249.93,121.37 248.47,120.33 249.90,120.60 C251.33,120.87 255.32,122.43 256.40,122.80" fill="none" stroke="#ff9a2a" stroke-width="1.4" stroke-linejoin="round" stroke-linecap="round"/>
<path d="M115.30,93.30 C116.32,94.38 119.20,97.93 121.40,99.80 C123.60,101.67 125.75,103.37 128.50,104.50 C131.25,105.63 134.77,106.42 137.90,106.60 C141.03,106.78 143.28,106.15 147.30,105.60 C151.32,105.05 158.10,103.78 162.00,103.30 C165.90,102.82 167.47,102.77 170.70,102.70 C173.93,102.63 177.85,102.63 181.40,102.90 C184.95,103.17 188.45,103.72 192.00,104.30 C195.55,104.88 198.75,105.47 202.70,106.40 C206.65,107.33 211.75,108.78 215.70,109.90 C219.65,111.02 222.83,112.12 226.40,113.10 C229.97,114.08 233.53,115.08 237.10,115.80 C240.67,116.52 245.67,117.18 247.80,117.40 C249.93,117.62 248.47,116.73 249.90,117.10 C251.33,117.47 255.32,119.18 256.40,119.60" fill="none" stroke="#22c422" stroke-width="1.4" stroke-linejoin="round" stroke-linecap="round"/>
<path d="M115.30,86.20 C116.32,87.18 119.20,90.23 121.40,92.10 C123.60,93.97 125.95,95.83 128.50,97.40 C131.05,98.97 133.95,100.72 136.70,101.50 C139.45,102.28 140.78,102.48 145.00,102.10 C149.22,101.72 157.72,99.90 162.00,99.20 C166.28,98.50 167.47,98.07 170.70,97.90 C173.93,97.73 177.85,97.85 181.40,98.20 C184.95,98.55 188.45,99.25 192.00,100.00 C195.55,100.75 198.75,101.67 202.70,102.70 C206.65,103.73 211.75,105.00 215.70,106.20 C219.65,107.40 222.83,108.83 226.40,109.90 C229.97,110.97 233.53,111.97 237.10,112.60 C240.67,113.23 245.30,113.43 247.80,113.70 C250.30,113.97 250.67,113.85 252.10,114.20 C253.53,114.55 255.68,115.53 256.40,115.80" fill="none" stroke="#f52a2a" stroke-width="1.4" stroke-linejoin="round" stroke-linecap="round"/>
<path d="M115.30,84.50 C116.32,85.57 119.20,88.85 121.40,90.90 C123.60,92.95 126.15,95.03 128.50,96.80 C130.85,98.57 133.15,100.42 135.50,101.50 C137.85,102.58 139.85,103.00 142.60,103.30 C145.35,103.60 148.77,103.45 152.00,103.30 C155.23,103.15 158.88,102.68 162.00,102.40 C165.12,102.12 167.47,101.73 170.70,101.60 C173.93,101.47 177.85,101.42 181.40,101.60 C184.95,101.78 188.45,102.25 192.00,102.70 C195.55,103.15 198.75,103.53 202.70,104.30 C206.65,105.07 211.75,106.45 215.70,107.30 C219.65,108.15 222.83,108.73 226.40,109.40 C229.97,110.07 233.88,110.85 237.10,111.30 C240.32,111.75 243.57,112.10 245.70,112.10 C247.83,112.10 248.12,111.13 249.90,111.30 C251.68,111.47 255.32,112.80 256.40,113.10" fill="none" stroke="#2a2af5" stroke-width="1.4" stroke-linejoin="round" stroke-linecap="round"/>
<path d="M115.30,74.50 C115.93,75.57 117.68,78.75 119.10,80.90 C120.52,83.05 122.05,85.53 123.80,87.40 C125.55,89.27 127.45,91.02 129.60,92.10 C131.75,93.18 134.33,93.80 136.70,93.90 C139.07,94.00 141.25,93.38 143.80,92.70 C146.35,92.02 148.97,90.93 152.00,89.80 C155.03,88.67 158.53,86.78 162.00,85.90 C165.47,85.02 169.57,84.58 172.80,84.50 C176.03,84.42 178.53,84.92 181.40,85.40 C184.27,85.88 186.75,86.33 190.00,87.40 C193.25,88.47 197.27,90.13 200.90,91.80 C204.53,93.47 208.17,95.37 211.80,97.40 C215.43,99.43 219.07,101.90 222.70,104.00 C226.33,106.10 230.88,108.73 233.60,110.00 C236.32,111.27 236.63,111.25 239.00,111.60 C241.37,111.95 245.62,111.75 247.80,112.10 C249.98,112.45 250.67,113.17 252.10,113.70 C253.53,114.23 255.68,115.03 256.40,115.30" fill="none" stroke="#b02af5" stroke-width="1.4" stroke-linejoin="round" stroke-linecap="round"/>
<path d="M230.6,51.7 L238.8,51.7" stroke="#2a2af5" stroke-width="1.6"/>
<text x="242.9" y="53.9" font-size="6.3" font-weight="bold" fill="#111" stroke="#111" stroke-width="0.28">pH 4</text>
<path d="M230.6,60.5 L238.8,60.5" stroke="#f52a2a" stroke-width="1.6"/>
<text x="242.9" y="62.7" font-size="6.3" font-weight="bold" fill="#111" stroke="#111" stroke-width="0.28">pH 5</text>
<path d="M230.6,69.3 L238.8,69.3" stroke="#22c422" stroke-width="1.6"/>
<text x="242.9" y="71.5" font-size="6.3" font-weight="bold" fill="#111" stroke="#111" stroke-width="0.28">pH 6</text>
<path d="M230.6,78.1 L238.8,78.1" stroke="#b02af5" stroke-width="1.6"/>
<text x="242.9" y="80.3" font-size="6.3" font-weight="bold" fill="#111" stroke="#111" stroke-width="0.28">pH 7</text>
<path d="M230.6,86.9 L238.8,86.9" stroke="#ff9a2a" stroke-width="1.6"/>
<text x="242.9" y="89.1" font-size="6.3" font-weight="bold" fill="#111" stroke="#111" stroke-width="0.28">pH 8</text>
<g stroke="#111" stroke-width="1.35" fill="none">
<path d="M402.8,52.2 L402.8,127.5 L540.8,127.5"/>
<path d="M401.0,52.2 L402.8,52.2"/>
<path d="M401.0,63.0 L402.8,63.0"/>
<path d="M401.0,73.7 L402.8,73.7"/>
<path d="M401.0,84.5 L402.8,84.5"/>
<path d="M401.0,95.2 L402.8,95.2"/>
<path d="M401.0,106.0 L402.8,106.0"/>
<path d="M401.0,116.7 L402.8,116.7"/>
<path d="M401.0,127.5 L402.8,127.5"/>
<path d="M402.8,127.5 L402.8,129.3"/>
<path d="M416.6,127.5 L416.6,129.3"/>
<path d="M430.4,127.5 L430.4,129.3"/>
<path d="M444.2,127.5 L444.2,129.3"/>
<path d="M458.0,127.5 L458.0,129.3"/>
<path d="M471.8,127.5 L471.8,129.3"/>
<path d="M485.6,127.5 L485.6,129.3"/>
<path d="M499.4,127.5 L499.4,129.3"/>
<path d="M513.2,127.5 L513.2,129.3"/>
<path d="M527.0,127.5 L527.0,129.3"/>
<path d="M540.8,127.5 L540.8,129.3"/>
</g>
<text x="399.8" y="54.4" text-anchor="end" font-size="6.3" font-weight="bold" fill="#111" stroke="#111" stroke-width="0.28">0.40</text>
<text x="399.8" y="65.2" text-anchor="end" font-size="6.3" font-weight="bold" fill="#111" stroke="#111" stroke-width="0.28">0.35</text>
<text x="399.8" y="75.9" text-anchor="end" font-size="6.3" font-weight="bold" fill="#111" stroke="#111" stroke-width="0.28">0.30</text>
<text x="399.8" y="86.7" text-anchor="end" font-size="6.3" font-weight="bold" fill="#111" stroke="#111" stroke-width="0.28">0.25</text>
<text x="399.8" y="97.4" text-anchor="end" font-size="6.3" font-weight="bold" fill="#111" stroke="#111" stroke-width="0.28">0.20</text>
<text x="399.8" y="108.2" text-anchor="end" font-size="6.3" font-weight="bold" fill="#111" stroke="#111" stroke-width="0.28">0.15</text>
<text x="399.8" y="118.9" text-anchor="end" font-size="6.3" font-weight="bold" fill="#111" stroke="#111" stroke-width="0.28">0.10</text>
<text x="399.8" y="129.7" text-anchor="end" font-size="6.3" font-weight="bold" fill="#111" stroke="#111" stroke-width="0.28">0.05</text>
<text x="402.8" y="136.5" text-anchor="middle" font-size="6.3" font-weight="bold" fill="#111" stroke="#111" stroke-width="0.2">400</text>
<text x="416.6" y="136.5" text-anchor="middle" font-size="6.3" font-weight="bold" fill="#111" stroke="#111" stroke-width="0.2">450</text>
<text x="430.4" y="136.5" text-anchor="middle" font-size="6.3" font-weight="bold" fill="#111" stroke="#111" stroke-width="0.2">500</text>
<text x="444.2" y="136.5" text-anchor="middle" font-size="6.3" font-weight="bold" fill="#111" stroke="#111" stroke-width="0.2">550</text>
<text x="458.0" y="136.5" text-anchor="middle" font-size="6.3" font-weight="bold" fill="#111" stroke="#111" stroke-width="0.2">600</text>
<text x="471.8" y="136.5" text-anchor="middle" font-size="6.3" font-weight="bold" fill="#111" stroke="#111" stroke-width="0.2">650</text>
<text x="485.6" y="136.5" text-anchor="middle" font-size="6.3" font-weight="bold" fill="#111" stroke="#111" stroke-width="0.2">700</text>
<text x="499.4" y="136.5" text-anchor="middle" font-size="6.3" font-weight="bold" fill="#111" stroke="#111" stroke-width="0.2">750</text>
<text x="513.2" y="136.5" text-anchor="middle" font-size="6.3" font-weight="bold" fill="#111" stroke="#111" stroke-width="0.2">800</text>
<text x="527.0" y="136.5" text-anchor="middle" font-size="6.3" font-weight="bold" fill="#111" stroke="#111" stroke-width="0.2">850</text>
<text x="540.8" y="136.5" text-anchor="middle" font-size="6.3" font-weight="bold" fill="#111" stroke="#111" stroke-width="0.2">900</text>
<text x="471.5" y="152.3" text-anchor="middle" font-size="6.8" font-weight="bold" fill="#111" stroke="#111" stroke-width="0.2">Wavelength  (nm)</text>
<text transform="translate(379.3,89.8) rotate(-90)" text-anchor="middle" font-size="6.6" font-weight="bold" fill="#111" stroke="#111" stroke-width="0.25">Absorbance (O.D.)</text>
<path d="M402.70,79.40 C403.58,80.73 406.22,85.28 408.00,87.40 C409.78,89.52 411.40,90.65 413.40,92.10 C415.40,93.55 417.78,95.15 420.00,96.10 C422.22,97.05 424.47,97.65 426.70,97.80 C428.93,97.95 430.95,97.40 433.40,97.00 C435.85,96.60 437.65,95.85 441.40,95.40 C445.15,94.95 451.67,94.37 455.90,94.30 C460.13,94.23 463.17,94.40 466.80,95.00 C470.43,95.60 474.07,96.83 477.70,97.90 C481.33,98.97 485.50,100.37 488.60,101.40 C491.70,102.43 492.80,102.70 496.30,104.10 C499.80,105.50 505.78,108.22 509.60,109.80 C513.42,111.38 516.00,112.60 519.20,113.60 C522.40,114.60 526.38,115.37 528.80,115.80 C531.22,116.23 531.68,115.77 533.70,116.20 C535.72,116.63 539.70,118.03 540.90,118.40" fill="none" stroke="#ff9a2a" stroke-width="1.4" stroke-linejoin="round" stroke-linecap="round"/>
<path d="M402.70,81.80 C403.58,83.18 406.22,87.83 408.00,90.10 C409.78,92.37 411.40,93.73 413.40,95.40 C415.40,97.07 417.78,98.80 420.00,100.10 C422.22,101.40 424.23,102.53 426.70,103.20 C429.17,103.87 432.12,104.10 434.80,104.10 C437.48,104.10 439.28,103.62 442.80,103.20 C446.32,102.78 451.90,101.82 455.90,101.60 C459.90,101.38 463.17,101.67 466.80,101.90 C470.43,102.13 474.07,102.52 477.70,103.00 C481.33,103.48 485.50,104.25 488.60,104.80 C491.70,105.35 492.80,105.38 496.30,106.30 C499.80,107.22 505.78,109.15 509.60,110.30 C513.42,111.45 516.00,112.48 519.20,113.20 C522.40,113.92 526.38,114.48 528.80,114.60 C531.22,114.72 531.68,113.73 533.70,113.90 C535.72,114.07 539.70,115.32 540.90,115.60" fill="none" stroke="#22c422" stroke-width="1.4" stroke-linejoin="round" stroke-linecap="round"/>
<path d="M402.70,88.10 C403.58,89.32 406.22,93.55 408.00,95.40 C409.78,97.25 411.40,98.08 413.40,99.20 C415.40,100.32 417.78,101.43 420.00,102.10 C422.22,102.77 424.47,103.20 426.70,103.20 C428.93,103.20 430.95,102.73 433.40,102.10 C435.85,101.47 437.65,100.33 441.40,99.40 C445.15,98.47 451.67,96.98 455.90,96.50 C460.13,96.02 463.17,96.15 466.80,96.50 C470.43,96.85 474.07,97.70 477.70,98.60 C481.33,99.50 485.50,100.90 488.60,101.90 C491.70,102.90 492.80,103.37 496.30,104.60 C499.80,105.83 505.78,107.90 509.60,109.30 C513.42,110.70 516.00,112.03 519.20,113.00 C522.40,113.97 526.38,114.67 528.80,115.10 C531.22,115.53 531.68,115.20 533.70,115.60 C535.72,116.00 539.70,117.18 540.90,117.50" fill="none" stroke="#b02af5" stroke-width="1.4" stroke-linejoin="round" stroke-linecap="round"/>
<path d="M402.70,69.40 C403.58,70.28 406.22,73.03 408.00,74.70 C409.78,76.37 411.62,77.62 413.40,79.40 C415.18,81.18 417.03,83.28 418.70,85.40 C420.37,87.52 421.83,90.17 423.40,92.10 C424.97,94.03 426.20,95.78 428.10,97.00 C430.00,98.22 432.35,98.73 434.80,99.40 C437.25,100.07 439.28,100.67 442.80,101.00 C446.32,101.33 451.90,101.30 455.90,101.40 C459.90,101.50 463.17,101.43 466.80,101.60 C470.43,101.77 474.07,102.08 477.70,102.40 C481.33,102.72 484.88,103.15 488.60,103.50 C492.32,103.85 496.50,104.17 500.00,104.50 C503.50,104.83 506.40,105.22 509.60,105.50 C512.80,105.78 516.00,106.08 519.20,106.20 C522.40,106.32 526.38,106.35 528.80,106.20 C531.22,106.05 531.68,105.23 533.70,105.30 C535.72,105.37 539.70,106.38 540.90,106.60" fill="none" stroke="#f52a2a" stroke-width="1.4" stroke-linejoin="round" stroke-linecap="round"/>
<path d="M402.70,68.40 C403.58,69.12 406.22,71.20 408.00,72.70 C409.78,74.20 411.83,75.85 413.40,77.40 C414.97,78.95 416.07,80.12 417.40,82.00 C418.73,83.88 420.18,86.47 421.40,88.70 C422.62,90.93 423.37,93.17 424.70,95.40 C426.03,97.63 427.50,100.20 429.40,102.10 C431.30,104.00 433.65,105.57 436.10,106.80 C438.55,108.03 440.80,108.87 444.10,109.50 C447.40,110.13 452.12,110.60 455.90,110.60 C459.68,110.60 463.17,109.95 466.80,109.50 C470.43,109.05 474.07,108.50 477.70,107.90 C481.33,107.30 485.50,106.48 488.60,105.90 C491.70,105.32 492.80,105.12 496.30,104.40 C499.80,103.68 505.78,102.22 509.60,101.60 C513.42,100.98 516.00,101.02 519.20,100.70 C522.40,100.38 526.38,100.03 528.80,99.70 C531.22,99.37 532.42,98.78 533.70,98.70 C534.98,98.62 535.30,98.95 536.50,99.20 C537.70,99.45 540.17,100.03 540.90,100.20" fill="none" stroke="#2a2af5" stroke-width="1.4" stroke-linejoin="round" stroke-linecap="round"/>
<path d="M515.2,52.0 L523.4,52.0" stroke="#2a2af5" stroke-width="1.6"/>
<text x="527.5" y="54.2" font-size="6.3" font-weight="bold" fill="#111" stroke="#111" stroke-width="0.28">pH 4</text>
<path d="M515.2,60.3 L523.4,60.3" stroke="#f52a2a" stroke-width="1.6"/>
<text x="527.5" y="62.5" font-size="6.3" font-weight="bold" fill="#111" stroke="#111" stroke-width="0.28">pH 5</text>
<path d="M515.2,68.6 L523.4,68.6" stroke="#22c422" stroke-width="1.6"/>
<text x="527.5" y="70.8" font-size="6.3" font-weight="bold" fill="#111" stroke="#111" stroke-width="0.28">pH 6</text>
<path d="M515.2,76.9 L523.4,76.9" stroke="#b02af5" stroke-width="1.6"/>
<text x="527.5" y="79.1" font-size="6.3" font-weight="bold" fill="#111" stroke="#111" stroke-width="0.28">pH 7</text>
<path d="M515.2,85.2 L523.4,85.2" stroke="#ff9a2a" stroke-width="1.6"/>
<text x="527.5" y="87.4" font-size="6.3" font-weight="bold" fill="#111" stroke="#111" stroke-width="0.28">pH 8</text>
<g stroke="#111" stroke-width="1.6" fill="none">
<path d="M52.9,176.2 L52.9,331.4 L286.2,331.4"/>
<path d="M48.4,176.4 L52.9,176.4"/>
<path d="M48.4,207.4 L52.9,207.4"/>
<path d="M48.4,238.4 L52.9,238.4"/>
<path d="M48.4,269.4 L52.9,269.4"/>
<path d="M48.4,300.4 L52.9,300.4"/>
<path d="M48.4,331.4 L52.9,331.4"/>
<path d="M72.0,331.4 L72.0,335.6"/>
<path d="M110.6,331.4 L110.6,335.6"/>
<path d="M149.3,331.4 L149.3,335.6"/>
<path d="M187.9,331.4 L187.9,335.6"/>
<path d="M226.6,331.4 L226.6,335.6"/>
<path d="M265.2,331.4 L265.2,335.6"/>
</g>
<text x="47" y="180.0" text-anchor="end" font-size="12.5" font-weight="bold" fill="#1a1a1a" stroke="#1a1a1a" stroke-width="0.2">2.0</text>
<text x="47" y="211.0" text-anchor="end" font-size="12.5" font-weight="bold" fill="#1a1a1a" stroke="#1a1a1a" stroke-width="0.2">1.7</text>
<text x="47" y="242.0" text-anchor="end" font-size="12.5" font-weight="bold" fill="#1a1a1a" stroke="#1a1a1a" stroke-width="0.2">1.4</text>
<text x="47" y="273.0" text-anchor="end" font-size="12.5" font-weight="bold" fill="#1a1a1a" stroke="#1a1a1a" stroke-width="0.2">1.1</text>
<text x="47" y="304.0" text-anchor="end" font-size="12.5" font-weight="bold" fill="#1a1a1a" stroke="#1a1a1a" stroke-width="0.2">0.8</text>
<text x="47" y="335.0" text-anchor="end" font-size="12.5" font-weight="bold" fill="#1a1a1a" stroke="#1a1a1a" stroke-width="0.2">0.5</text>
<text x="72.0" y="349.1" text-anchor="middle" font-size="12" font-weight="bold" fill="#1a1a1a" stroke="#1a1a1a" stroke-width="0.2">3</text>
<text x="110.6" y="349.1" text-anchor="middle" font-size="12" font-weight="bold" fill="#1a1a1a" stroke="#1a1a1a" stroke-width="0.2">4</text>
<text x="149.3" y="349.1" text-anchor="middle" font-size="12" font-weight="bold" fill="#1a1a1a" stroke="#1a1a1a" stroke-width="0.2">5</text>
<text x="187.9" y="349.1" text-anchor="middle" font-size="12" font-weight="bold" fill="#1a1a1a" stroke="#1a1a1a" stroke-width="0.2">6</text>
<text x="226.6" y="349.1" text-anchor="middle" font-size="12" font-weight="bold" fill="#1a1a1a" stroke="#1a1a1a" stroke-width="0.2">7</text>
<text x="265.2" y="349.1" text-anchor="middle" font-size="12" font-weight="bold" fill="#1a1a1a" stroke="#1a1a1a" stroke-width="0.2">8</text>
<text x="169" y="367.5" text-anchor="middle" font-size="12" font-weight="bold" fill="#222">pH</text>
<text transform="translate(16.9,331.8) rotate(-90)" font-size="11.5" font-weight="bold" fill="#1a1a1a" stroke="#1a1a1a" stroke-width="0.15" textLength="90.6" lengthAdjust="spacingAndGlyphs">Absorbance ratio</text>
<text transform="translate(15.3,236.9) rotate(-90)" font-size="12.2" font-weight="bold" fill="#1a1a1a" textLength="61.3" lengthAdjust="spacingAndGlyphs">(<tspan font-weight="normal">λ</tspan><tspan font-size="9" dy="1.8">600</tspan><tspan dy="-1.8">/</tspan><tspan font-weight="normal">λ</tspan><tspan font-size="9" dy="1.8">900</tspan><tspan dy="-1.8">)</tspan></text>
<path d="M72.00,309.03 L73.93,309.03 L75.86,309.02 L77.80,309.02 L79.73,309.01 L81.66,309.00 L83.59,309.00 L85.52,308.99 L87.46,308.98 L89.39,308.97 L91.32,308.95 L93.25,308.94 L95.18,308.93 L97.12,308.91 L99.05,308.89 L100.98,308.87 L102.91,308.85 L104.84,308.82 L106.78,308.80 L108.71,308.77 L110.64,308.73 L112.57,308.70 L114.50,308.66 L116.44,308.61 L118.37,308.56 L120.30,308.51 L122.23,308.44 L124.16,308.38 L126.10,308.30 L128.03,308.22 L129.96,308.13 L131.89,308.03 L133.82,307.92 L135.76,307.80 L137.69,307.66 L139.62,307.51 L141.55,307.35 L143.48,307.17 L145.42,306.97 L147.35,306.75 L149.28,306.51 L151.21,306.24 L153.14,305.95 L155.08,305.63 L157.01,305.28 L158.94,304.89 L160.87,304.47 L162.80,304.00 L164.74,303.49 L166.67,302.94 L168.60,302.33 L170.53,301.67 L172.46,300.95 L174.40,300.17 L176.33,299.32 L178.26,298.41 L180.19,297.41 L182.12,296.34 L184.06,295.20 L185.99,293.96 L187.92,292.64 L189.85,291.24 L191.78,289.74 L193.72,288.15 L195.65,286.48 L197.58,284.72 L199.51,282.87 L201.44,280.95 L203.38,278.95 L205.31,276.88 L207.24,274.74 L209.17,272.56 L211.10,270.33 L213.04,268.07 L214.97,265.79 L216.90,263.50 L218.83,261.21 L220.76,258.94 L222.70,256.68 L224.63,254.47 L226.56,252.30 L228.49,250.18 L230.42,248.13 L232.36,246.15 L234.29,244.25 L236.22,242.42 L238.15,240.69 L240.08,239.04 L242.02,237.48 L243.95,236.01 L245.88,234.62 L247.81,233.33 L249.74,232.12 L251.68,230.99 L253.61,229.95 L255.54,228.97 L257.47,228.08 L259.40,227.25 L261.34,226.48 L263.27,225.78 L265.20,225.14" fill="none" stroke="#111" stroke-width="1.8"/>
<circle cx="72.0" cy="309.0" r="2.6" fill="#111"/>
<circle cx="110.6" cy="308.7" r="2.6" fill="#111"/>
<circle cx="149.3" cy="307.3" r="2.6" fill="#111"/>
<circle cx="187.9" cy="292.6" r="2.6" fill="#111"/>
<circle cx="226.6" cy="252.3" r="2.6" fill="#111"/>
<circle cx="265.2" cy="225.1" r="2.6" fill="#111"/>
<path d="M72.00,297.58 L73.93,297.58 L75.86,297.58 L77.80,297.57 L79.73,297.57 L81.66,297.56 L83.59,297.56 L85.52,297.55 L87.46,297.55 L89.39,297.54 L91.32,297.53 L93.25,297.52 L95.18,297.51 L97.12,297.50 L99.05,297.48 L100.98,297.47 L102.91,297.45 L104.84,297.43 L106.78,297.41 L108.71,297.39 L110.64,297.36 L112.57,297.33 L114.50,297.30 L116.44,297.26 L118.37,297.22 L120.30,297.17 L122.23,297.12 L124.16,297.06 L126.10,296.99 L128.03,296.92 L129.96,296.84 L131.89,296.75 L133.82,296.64 L135.76,296.53 L137.69,296.40 L139.62,296.26 L141.55,296.10 L143.48,295.92 L145.42,295.72 L147.35,295.50 L149.28,295.26 L151.21,294.98 L153.14,294.68 L155.08,294.34 L157.01,293.96 L158.94,293.54 L160.87,293.07 L162.80,292.56 L164.74,291.99 L166.67,291.35 L168.60,290.65 L170.53,289.88 L172.46,289.04 L174.40,288.10 L176.33,287.08 L178.26,285.96 L180.19,284.74 L182.12,283.41 L184.06,281.96 L185.99,280.39 L187.92,278.70 L189.85,276.89 L191.78,274.94 L193.72,272.86 L195.65,270.66 L197.58,268.32 L199.51,265.87 L201.44,263.30 L203.38,260.63 L205.31,257.87 L207.24,255.02 L209.17,252.12 L211.10,249.16 L213.04,246.18 L214.97,243.18 L216.90,240.19 L218.83,237.23 L220.76,234.32 L222.70,231.47 L224.63,228.69 L226.56,226.01 L228.49,223.43 L230.42,220.96 L232.36,218.62 L234.29,216.40 L236.22,214.30 L238.15,212.34 L240.08,210.51 L242.02,208.80 L243.95,207.22 L245.88,205.76 L247.81,204.41 L249.74,203.18 L251.68,202.05 L253.61,201.01 L255.54,200.07 L257.47,199.21 L259.40,198.43 L261.34,197.73 L263.27,197.09 L265.20,196.51" fill="none" stroke="#f01010" stroke-width="1.8"/>
<circle cx="72.0" cy="297.6" r="2.6" fill="#f01010"/>
<circle cx="110.6" cy="297.4" r="2.6" fill="#f01010"/>
<circle cx="149.3" cy="296.1" r="2.6" fill="#f01010"/>
<circle cx="187.9" cy="278.7" r="2.6" fill="#f01010"/>
<circle cx="226.6" cy="226.0" r="2.6" fill="#f01010"/>
<circle cx="265.2" cy="196.5" r="2.6" fill="#f01010"/>
<g stroke="#f01010" stroke-width="1.2"><path d="M185.6,275 L190.4,275 M188,275 L188,282.2 M185.6,282.2 L190.4,282.2 M224.3,222.8 L229.3,222.8 M226.8,222.8 L226.8,229.5 M224.3,229.5 L229.3,229.5"/></g>
<g stroke="#111" stroke-width="1.2"><path d="M224.3,249.5 L229.3,249.5 M226.8,249.5 L226.8,255.4 M224.3,255.4 L229.3,255.4"/></g>
<rect x="224.8" y="250" width="4" height="5" fill="#111"/>
<text x="72.4" y="174.4" font-size="11.8" font-weight="bold" fill="#f01010" stroke="#f01010" stroke-width="0.25" textLength="27.8" lengthAdjust="spacingAndGlyphs">FACH</text>
<text x="72.4" y="226" font-size="11.8" font-weight="bold" fill="#111" stroke="#111" stroke-width="0.25" textLength="31.4" lengthAdjust="spacingAndGlyphs">PNHC</text>
<text x="72.5" y="189.5" font-size="7.7" font-weight="bold" fill="#1a1a1a" stroke="#1a1a1a" stroke-width="0.2">Y</text>
<text x="82" y="189.5" font-size="7.7" font-weight="bold" fill="#1a1a1a" stroke="#1a1a1a" stroke-width="0.2">=</text>
<text x="90" y="189.5" font-size="7.9" font-weight="bold" fill="#1a1a1a" stroke="#1a1a1a" stroke-width="0.2" textLength="22.7" lengthAdjust="spacingAndGlyphs">0.827+</text>
<path d="M115.5,186.8 L191.8,186.8" stroke="#444" stroke-width="0.8"/>
<text x="154.6" y="183.5" text-anchor="middle" font-size="7.9" font-weight="bold" fill="#1a1a1a" stroke="#1a1a1a" stroke-width="0.2" textLength="19.2" lengthAdjust="spacingAndGlyphs">1.028</text>
<text x="116" y="196.1" font-size="8.1" font-weight="bold" fill="#1a1a1a" stroke="#1a1a1a" stroke-width="0.2" textLength="16.5" lengthAdjust="spacingAndGlyphs">1+10</text>
<text x="133.3" y="196.0" font-size="8.6" fill="#555">(</text>
<text x="136.4" y="193.9" font-size="7.8" font-weight="bold" fill="#1a1a1a" stroke="#1a1a1a" stroke-width="0.2" textLength="56.4" lengthAdjust="spacingAndGlyphs">6.678−x)×0.980</text>
<text x="72.5" y="206.0" font-size="7.7" font-weight="bold" fill="#1a1a1a" stroke="#1a1a1a" stroke-width="0.2">R</text>
<text x="78" y="203.0" font-size="4.8" font-weight="bold" fill="#1a1a1a" stroke="#1a1a1a" stroke-width="0.2">2</text>
<text x="82" y="206.0" font-size="7.7" font-weight="bold" fill="#1a1a1a" stroke="#1a1a1a" stroke-width="0.2">=</text>
<text x="90" y="206.0" font-size="7.9" font-weight="bold" fill="#1a1a1a" stroke="#1a1a1a" stroke-width="0.2" textLength="18.6" lengthAdjust="spacingAndGlyphs">0.998</text>
<text x="72.5" y="240.8" font-size="7.7" font-weight="bold" fill="#1a1a1a" stroke="#1a1a1a" stroke-width="0.2">Y</text>
<text x="82" y="240.8" font-size="7.7" font-weight="bold" fill="#1a1a1a" stroke="#1a1a1a" stroke-width="0.2">=</text>
<text x="90" y="240.8" font-size="7.9" font-weight="bold" fill="#1a1a1a" stroke="#1a1a1a" stroke-width="0.2" textLength="22.7" lengthAdjust="spacingAndGlyphs">0.716+</text>
<path d="M115.5,238.6 L191.8,238.6" stroke="#444" stroke-width="0.8"/>
<text x="154.6" y="235.3" text-anchor="middle" font-size="7.9" font-weight="bold" fill="#1a1a1a" stroke="#1a1a1a" stroke-width="0.2" textLength="19.2" lengthAdjust="spacingAndGlyphs">0.876</text>
<text x="116" y="247.9" font-size="8.1" font-weight="bold" fill="#1a1a1a" stroke="#1a1a1a" stroke-width="0.2" textLength="16.5" lengthAdjust="spacingAndGlyphs">1+10</text>
<text x="133.3" y="247.8" font-size="8.6" fill="#555">(</text>
<text x="136.4" y="245.7" font-size="7.8" font-weight="bold" fill="#1a1a1a" stroke="#1a1a1a" stroke-width="0.2" textLength="56.4" lengthAdjust="spacingAndGlyphs">6.743−x)×0.880</text>
<text x="72.5" y="257.9" font-size="7.7" font-weight="bold" fill="#1a1a1a" stroke="#1a1a1a" stroke-width="0.2">R</text>
<text x="78" y="254.9" font-size="4.8" font-weight="bold" fill="#1a1a1a" stroke="#1a1a1a" stroke-width="0.2">2</text>
<text x="82" y="257.9" font-size="7.7" font-weight="bold" fill="#1a1a1a" stroke="#1a1a1a" stroke-width="0.2">=</text>
<text x="90" y="257.9" font-size="7.9" font-weight="bold" fill="#1a1a1a" stroke="#1a1a1a" stroke-width="0.2" textLength="18.6" lengthAdjust="spacingAndGlyphs">0.998</text>
<g stroke="#111" stroke-width="1.8" fill="none">
<path d="M342.4,174.8 L342.4,334.8 L474.5,334.8 L474.5,174.8"/>
<path d="M337.8,175.5 L342.4,175.5"/>
<path d="M337.8,207.4 L342.4,207.4"/>
<path d="M337.8,239.2 L342.4,239.2"/>
<path d="M337.8,271.1 L342.4,271.1"/>
<path d="M337.8,302.9 L342.4,302.9"/>
<path d="M337.8,334.8 L342.4,334.8"/>
<path d="M474.5,175.3 L478.5,175.3"/>
<path d="M474.5,228.5 L478.5,228.5"/>
<path d="M474.5,281.6 L478.5,281.6"/>
<path d="M474.5,334.8 L478.5,334.8"/>
</g>
<text x="332.8" y="178.4" text-anchor="end" font-size="9.6" font-weight="bold" fill="#1a1a1a" stroke="#1a1a1a" stroke-width="0.2">2.2</text>
<text x="332.8" y="210.3" text-anchor="end" font-size="9.6" font-weight="bold" fill="#1a1a1a" stroke="#1a1a1a" stroke-width="0.2">2.1</text>
<text x="332.8" y="242.1" text-anchor="end" font-size="9.6" font-weight="bold" fill="#1a1a1a" stroke="#1a1a1a" stroke-width="0.2">2.0</text>
<text x="332.8" y="274.0" text-anchor="end" font-size="9.6" font-weight="bold" fill="#1a1a1a" stroke="#1a1a1a" stroke-width="0.2">1.9</text>
<text x="332.8" y="305.8" text-anchor="end" font-size="9.6" font-weight="bold" fill="#1a1a1a" stroke="#1a1a1a" stroke-width="0.2">1.8</text>
<text x="332.8" y="337.7" text-anchor="end" font-size="9.6" font-weight="bold" fill="#1a1a1a" stroke="#1a1a1a" stroke-width="0.2">1.7</text>
<text x="482" y="178.2" font-size="9.6" font-weight="bold" fill="#1a1a1a" stroke="#1a1a1a" stroke-width="0.2">1.00</text>
<text x="482" y="231.4" font-size="9.6" font-weight="bold" fill="#1a1a1a" stroke="#1a1a1a" stroke-width="0.2">0.95</text>
<text x="482" y="284.5" font-size="9.6" font-weight="bold" fill="#1a1a1a" stroke="#1a1a1a" stroke-width="0.2">0.90</text>
<text x="482" y="337.7" font-size="9.6" font-weight="bold" fill="#1a1a1a" stroke="#1a1a1a" stroke-width="0.2">0.85</text>
<text x="332.8" y="166" font-size="8.3" font-weight="bold" fill="#1a1a1a" stroke="#1a1a1a" stroke-width="0.2">x10<tspan font-size="5.8" dy="-3" stroke-width="0.1">-7</tspan></text>
<rect x="350.2" y="300.5" width="20.1" height="34.3" fill="#000"/>
<rect x="377.7" y="205.5" width="20" height="129.3" fill="#ff0000"/>
<rect x="418" y="302.4" width="20.4" height="32.4" fill="#000"/>
<rect x="445.5" y="195.7" width="20.3" height="139.1" fill="#ff0000"/>
<path d="M410,173.5 L410,334" stroke="#111" stroke-width="2" stroke-dasharray="5,4.6"/>
<rect x="349.7" y="175" width="14.5" height="9.4" fill="#000"/>
<rect x="349.7" y="188.2" width="14.5" height="9.6" fill="#ff0000"/>
<text x="370" y="183" font-size="10.2" font-weight="bold" fill="#1a1a1a" stroke="#1a1a1a" stroke-width="0.25">PNHC</text>
<text x="370" y="196.5" font-size="10.2" font-weight="bold" fill="#1a1a1a" stroke="#1a1a1a" stroke-width="0.25">FACH</text>
<text transform="translate(309.2,255) rotate(-90)" text-anchor="middle" font-size="12.5" font-weight="bold" fill="#222">1/IC50</text>
<text transform="translate(518,255.3) rotate(90)" text-anchor="middle" font-size="12.4" font-weight="bold" fill="#222">HillSlope</text>
</svg></body></html>
